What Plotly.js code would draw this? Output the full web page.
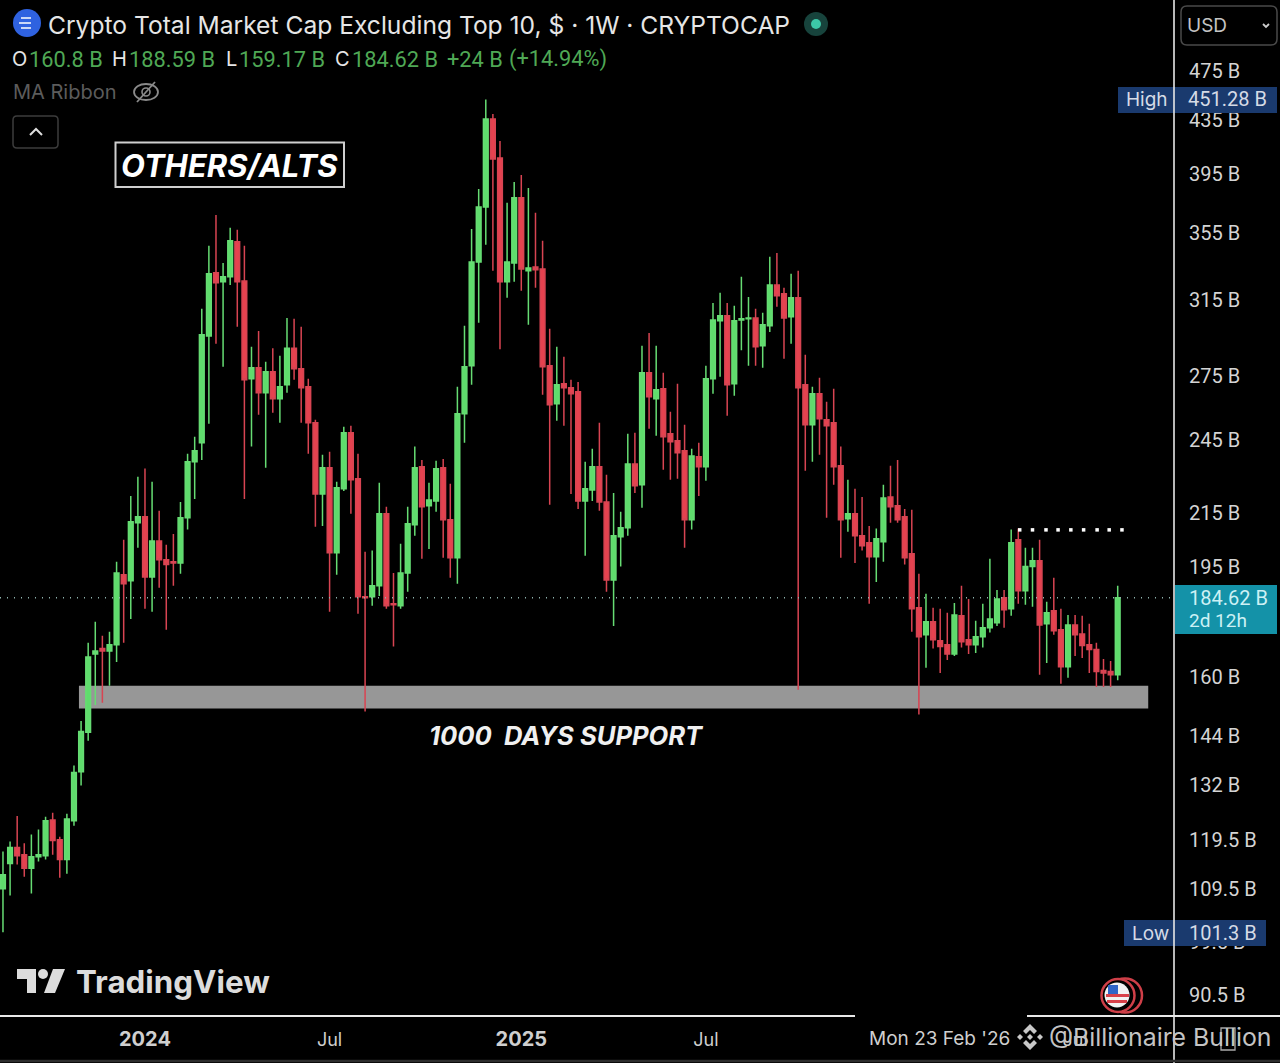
<!DOCTYPE html>
<html><head><meta charset="utf-8">
<script src="https://cdn.plot.ly/plotly-3.0.1.min.js"></script>
<style>html,body{margin:0;padding:0;background:#000;overflow:hidden}#c{width:1280px;height:1063px}</style>
</head><body><div id="c"></div>
<script>
const open_=[109.5,114.6,117.9,116.4,113.6,116.0,116.2,123.9,119.6,115.4,123.7,135.1,145.0,166.9,168.5,167.8,169.7,192.4,190.3,211.2,213.5,191.6,204.4,197.6,196.9,196.5,213.1,235.6,243.8,295.3,330.7,325.4,328.3,349.6,325.9,273.4,278.9,266.7,276.9,263.8,270.5,288.8,278.4,269.5,252.7,222.4,233.1,200.1,224.5,248.2,228.5,184.9,184.9,188.6,214.6,182.6,182.0,193.0,210.4,233.5,217.7,219.6,233.1,212.3,198.3,256.8,279.9,337.2,372.2,435.8,406.4,325.4,336.6,378.3,331.9,334.2,333.0,279.9,261.4,271.0,269.1,267.1,219.6,224.0,233.5,219.2,190.6,205.9,209.3,234.7,226.1,276.4,263.8,268.6,247.8,244.7,240.3,212.3,237.7,233.5,273.4,303.4,306.2,271.0,303.9,304.5,305.0,290.1,300.7,323.6,318.5,305.6,316.2,270.5,251.8,266.2,254.0,252.7,233.9,212.7,214.6,206.3,203.7,198.7,204.1,221.2,217.7,213.5,199.8,181.3,172.7,176.8,170.9,169.7,166.9,178.7,171.2,169.7,172.1,174.9,176.5,184.6,181.0,204.8,186.9,195.2,197.3,176.2,180.3,174.3,163.1,175.8,173.0,169.7,168.2,162.0,161.7,160.8];
const high_=[117.1,119.2,124.8,118.8,120.7,121.8,124.6,125.5,120.2,125.3,136.6,148.0,170.3,176.8,172.4,173.7,196.9,204.8,221.6,229.3,232.8,227.3,215.8,203.0,207.0,219.2,239.0,246.4,310.0,347.1,366.9,336.6,358.5,357.2,347.1,289.6,297.9,281.9,288.8,285.0,305.0,304.5,300.2,273.4,254.0,238.6,239.9,227.3,250.9,251.3,239.0,200.5,200.9,226.9,217.3,193.0,203.4,217.3,242.1,236.4,226.9,236.0,236.8,226.5,269.5,300.7,357.8,384.4,451.28,439.8,418.9,374.9,389.2,394.2,385.1,368.3,350.2,299.1,289.6,284.4,272.9,271.9,235.6,241.2,252.7,230.2,222.8,215.4,247.8,248.2,290.1,296.9,290.1,276.4,257.7,271.0,251.8,241.2,243.8,279.9,313.3,319.0,313.3,311.7,328.3,316.7,310.0,307.8,340.3,342.7,321.9,330.1,331.9,285.5,269.5,273.9,262.4,268.6,242.1,228.1,224.5,221.2,210.0,209.0,226.1,233.9,236.4,216.5,216.2,192.7,185.9,181.3,181.0,179.7,182.9,188.6,184.2,177.1,182.6,198.0,187.2,187.2,208.6,209.0,201.9,201.9,204.8,183.3,191.3,181.0,179.0,179.0,178.7,176.2,170.3,165.4,164.8,188.59];
const low_=[101.3,108.2,114.4,111.9,108.6,115.0,115.4,116.4,111.7,112.5,122.6,131.8,142.8,152.3,152.9,157.6,164.5,170.3,177.7,201.9,181.0,180.0,187.9,174.3,188.6,192.7,208.6,220.4,236.4,252.2,291.1,279.4,323.6,300.2,220.4,242.1,256.3,233.1,257.3,252.7,266.7,272.9,252.7,239.0,209.7,210.0,180.0,192.4,223.6,214.6,179.4,150.5,182.0,185.2,181.0,169.1,181.0,186.6,206.3,198.0,201.5,215.4,198.3,191.3,189.3,243.8,270.5,302.3,347.7,331.9,288.3,316.2,325.4,320.2,301.2,321.9,265.7,218.1,253.6,251.3,222.4,216.5,199.0,219.6,215.8,186.6,175.5,195.2,206.3,222.8,216.9,250.0,246.9,232.3,228.1,228.5,201.9,208.6,221.6,227.7,266.2,274.4,255.9,265.2,287.8,279.9,279.9,278.9,297.4,311.1,283.4,291.1,156.5,231.8,235.6,238.6,213.1,226.1,198.3,207.8,196.5,200.9,182.6,189.9,196.9,211.2,211.2,195.9,173.7,149.7,162.8,168.5,161.3,165.1,166.3,168.8,166.9,167.2,168.8,173.4,175.5,174.9,178.7,182.6,182.3,181.6,160.8,164.2,172.7,158.2,159.9,166.3,165.7,161.3,157.3,157.3,157.3,159.17];
const close_=[112.3,117.9,116.2,113.6,116.0,116.4,123.7,119.4,115.4,124.1,134.9,145.2,166.0,167.8,167.8,169.7,193.0,189.3,211.6,213.5,191.6,204.4,197.6,195.9,196.5,213.1,235.6,240.3,295.9,330.1,324.8,328.3,350.2,325.4,272.9,278.9,266.7,276.9,263.8,269.5,288.8,278.4,269.1,252.7,222.4,233.1,200.1,224.9,248.2,228.1,184.9,184.6,188.6,214.6,182.0,182.3,193.0,210.8,233.1,217.3,220.0,232.7,212.3,198.3,256.8,279.4,337.2,372.2,435.8,405.6,325.4,337.2,378.3,333.0,333.6,332.5,279.4,261.0,270.5,269.1,266.2,219.6,224.5,233.5,219.2,190.6,206.3,209.3,234.7,225.7,276.4,264.7,268.1,246.4,244.2,239.4,212.3,238.1,233.5,273.4,303.9,306.2,270.5,303.4,304.5,305.0,289.6,301.2,323.6,317.3,305.0,316.2,269.1,251.8,266.2,254.5,251.3,233.5,212.3,214.6,206.3,202.6,198.7,205.2,220.8,217.3,212.3,198.3,181.0,172.1,176.8,171.2,169.1,166.9,179.0,170.6,169.7,172.1,174.9,177.7,184.2,180.7,203.7,186.9,195.2,197.3,175.8,179.7,174.0,163.1,175.8,172.7,169.4,168.2,161.7,161.3,160.8,184.62];
const weekIndex=open_.map((_,i)=>i);
const priceTicks=[475,435,395,355,315,275,245,215,195,160,144,132,119.5,109.5,99.5,90.5];
const priceTickText=['475 B','435 B','395 B','355 B','315 B','275 B','245 B','215 B','195 B','160 B','144 B','132 B','119.5 B','109.5 B','99.5 B','90.5 B'];
const timeTicks=[20,46,73,99,151];
const timeTickText=['<b style="font-size:20px">2024</b>','Jul','<b style="font-size:20px">2025</b>','Jul','Jul'];
const lastPrice=[184.62,184.62];
const lastPriceX=[-0.42,164.93];
const resistanceX=[143.2,145,146.9,148.6,150.4,152.2,154.1,155.8,157.6];
const resistanceY=[208.5,208.5,208.5,208.5,208.5,208.5,208.5,208.5,208.5];
const supportLow=151.3, supportHigh=157.6, supportStart=10.7, supportEnd=161.3;

const W=1174,H=1016;
const px=x=>x/W, py=y=>1-y/H;
const UI='Inter, "Noto Sans", sans-serif';
const NUM='Roboto, Inter, sans-serif';
function txt(x,y,text,size,color,opts={}){
  return Object.assign({xref:'paper',yref:'paper',x:px(x),y:py(y),text,showarrow:false,xanchor:'left',yanchor:'middle',
    font:{family:opts.family||UI,size,color},borderpad:0,borderwidth:0},opts.extra||{});
}
function rect(x0,y0,x1,y1,fill,line,lw){return {type:'rect',xref:'paper',yref:'paper',layer:'above',x0:px(x0),x1:px(x1),y0:py(y0),y1:py(y1),fillcolor:fill||'rgba(0,0,0,0)',line:{color:line||'rgba(0,0,0,0)',width:lw||0}};}
function circ(cx,cy,r,fill,line,lw){return {type:'circle',xref:'paper',yref:'paper',layer:'above',x0:px(cx-r),x1:px(cx+r),y0:py(cy-r),y1:py(cy+r),fillcolor:fill||'rgba(0,0,0,0)',line:{color:line||'rgba(0,0,0,0)',width:lw||0}};}
function seg(x0,y0,x1,y1,color,lw){return {type:'line',xref:'paper',yref:'paper',layer:'above',x0:px(x0),x1:px(x1),y0:py(y0),y1:py(y1),line:{color,width:lw}};}
function poly(pts,fill,line,lw,closed=true){
  const d=pts.map((p,i)=>(i?'L':'M')+px(p[0])+' '+py(p[1])).join(' ')+(closed?' Z':'');
  return {type:'path',xref:'paper',yref:'paper',layer:'above',path:d,fillcolor:fill||'rgba(0,0,0,0)',line:{color:line||'rgba(0,0,0,0)',width:lw||0}};
}
const shapes=[
 {type:'rect',xref:'x',yref:'y',layer:'below',x0:supportStart,x1:supportEnd,y0:supportLow,y1:supportHigh,fillcolor:'#979797',line:{width:0}},
 // logo
 circ(27,23,14,'#2f62e0'),
 seg(21,18,31,18,'#fff',1.5),seg(19,23,31,23,'#fff',1.5),seg(21,28,31,28,'#fff',1.5),
 // market dot
 circ(816,24,12,'#17433c'),circ(816,24,5,'#3cc8a8'),
 // eye
 {type:'circle',xref:'paper',yref:'paper',layer:'above',x0:px(134),x1:px(158),y0:py(84),y1:py(100),line:{color:'#8a8a8a',width:1.8}},
 circ(146,92,4,null,'#8a8a8a',1.6),
 seg(137,102,155,82,'#8a8a8a',1.8),
 // collapse
 {type:'path',xref:'paper',yref:'paper',layer:'above',path:`M${px(17)} ${py(116)} L${px(54)} ${py(116)} Q${px(58)} ${py(116)} ${px(58)} ${py(120)} L${px(58)} ${py(144)} Q${px(58)} ${py(148)} ${px(54)} ${py(148)} L${px(17)} ${py(148)} Q${px(13)} ${py(148)} ${px(13)} ${py(144)} L${px(13)} ${py(120)} Q${px(13)} ${py(116)} ${px(17)} ${py(116)} Z`,line:{color:'#3c3c3c',width:1.5}},
 poly([[30,135],[36,129],[42,135]],null,'#ddd',2,false),
 // others box
 rect(115.5,142.5,344,187,null,'#cfcfcf',2),
 // USD
 {type:'path',xref:'paper',yref:'paper',layer:'above',path:`M${px(1187)} ${py(6)} L${px(1271)} ${py(6)} Q${px(1277)} ${py(6)} ${px(1277)} ${py(12)} L${px(1277)} ${py(39)} Q${px(1277)} ${py(45)} ${px(1271)} ${py(45)} L${px(1187)} ${py(45)} Q${px(1181)} ${py(45)} ${px(1181)} ${py(39)} L${px(1181)} ${py(12)} Q${px(1181)} ${py(6)} ${px(1187)} ${py(6)} Z`,line:{color:'#4a4a4a',width:1.5}},
 poly([[1263,24],[1266,27],[1269,24]],null,'#ccc',1.8,false),
 // high / low / price labels
 rect(1118,87,1277,113,'#1a3a6e'),
 rect(1124,920,1266,946,'#1a3a6e'),
 rect(1175,585,1277,634,'#1492a8'),
 // axis lines
 rect(855,1017,1027,1060,'#000'),
 seg(0,1016,855,1016,'#e8e8e8',2),seg(1027,1016,1280,1016,'#e8e8e8',2),
 seg(1174,0,1174,1063,'#e8e8e8',1.6),
 seg(0,1061,1280,1061,'#2e2e2e',2.5),
 // tradingview
 poly([[17,969],[36,969],[36,993],[27,993],[27,979],[17,979]],'#dcdcdc'),
 circ(43,974,5,'#dcdcdc'),
 poly([[53,969],[65,969],[55,993],[44,993]],'#dcdcdc'),
 // flag
 circ(1125,995.5,17,'#000','#cf3f48',2.5),circ(1118,995.5,16.5,'#000','#cf3f48',2.5),circ(1117,995,12.5,'#f2f2f2'),
 rect(1106,994,1129,997,'#d8414a'),rect(1107,1000,1127,1003,'#d8414a'),
 rect(1108,985,1118,994,'#2f65c8'),
 // binance
 poly([[1030,1024],[1037,1031],[1034,1034],[1030,1030],[1026,1034],[1023,1031]],'#c8c8c8'),
 poly([[1030,1050],[1037,1043],[1034,1040],[1030,1044],[1026,1040],[1023,1043]],'#c8c8c8'),
 poly([[1030,1034],[1033,1037],[1030,1040],[1027,1037]],'#c8c8c8'),
 poly([[1020,1034],[1023,1037],[1020,1040],[1017,1037]],'#c8c8c8'),
 poly([[1040,1034],[1043,1037],[1040,1040],[1037,1037]],'#c8c8c8'),
 rect(1221,1028,1235,1050,null,'#aaa',1.3),
];
const G='#4fa855';
const N={family:NUM};
const annotations=[
 txt(48,25,'Crypto Total Market Cap Excluding Top 10, $ · 1W · CRYPTOCAP',24.6,'#e6e6e6'),
 txt(12,59,'O',20,'#e6e6e6'),txt(29,59,'160.8 B',21.8,G,N),
 txt(112,59,'H',20,'#e6e6e6'),txt(129,59,'188.59 B',21.8,G,N),
 txt(226,59,'L',20,'#e6e6e6'),txt(239,59,'159.17 B',21.8,G,N),
 txt(335,59,'C',20,'#e6e6e6'),txt(352,59,'184.62 B',21.8,G,N),
 txt(447,59,'+24 B',21.8,G,N),txt(509,59,'(+14.94%)',21.8,G,N),
 txt(13,92,'MA Ribbon',20,'#5c5c5c'),
 txt(229.5,166,'<b><i>OTHERS/ALTS</i></b>',31,'#fff',{extra:{xanchor:'center'}}),
 txt(566,735,'<b><i>1000  DAYS SUPPORT</i></b>',25.6,'#f0f0f0',{extra:{xanchor:'center'}}),
 txt(1187,26,'USD',19,'#c4c4c4'),
 txt(1126,99,'High',19,'#d5dbe6'),txt(1188,99,'451.28 B',20,'#d5dbe6',N),
 txt(1132,933,'Low',19,'#d5dbe6'),txt(1189,933,'101.3 B',20,'#d5dbe6',N),
 txt(1189,598,'184.62 B',20,'#cdf1f5',N),txt(1189,620,'2d 12h',19,'#cdf1f5',N),
 txt(76,982,'<b>TradingView</b>',31.3,'#dcdcdc'),
 txt(869,1038,"Mon 23 Feb '26",19,'#cfcfcf'),
 txt(1049,1037,'@Billionaire Bullion',24.8,'#c4c4c4'),
];
const traces=[
 {type:'scatter',mode:'lines',x:lastPriceX,y:lastPrice,line:{color:'#8fb3ad',width:1.5,dash:'1px,6px'},hoverinfo:'skip',showlegend:false},
 {type:'candlestick',x:weekIndex,open:open_,high:high_,low:low_,close:close_,
  increasing:{line:{color:'#66dc73',width:1.5},fillcolor:'#5fdc6c'},
  decreasing:{line:{color:'#d84452',width:1.5},fillcolor:'#e5424f'},showlegend:false},
 {type:'scatter',mode:'markers',x:resistanceX,y:resistanceY,marker:{symbol:'square',size:3.5,color:'#fff'},hoverinfo:'skip',showlegend:false},
];
const layout={
 width:1280,height:1063,paper_bgcolor:'#000',plot_bgcolor:'#000',
 margin:{l:0,r:106,t:0,b:47,pad:0},showlegend:false,boxgap:0.05,hovermode:false,
 xaxis:{type:'linear',range:[-0.42,164.93],tickmode:'array',tickvals:timeTicks,ticktext:timeTickText,showgrid:false,zeroline:false,showline:false,ticks:'',
   tickfont:{family:UI,size:18,color:'#cfcfcf'},tickangle:0,rangeslider:{visible:false},fixedrange:true,ticklabelstandoff:11},
 yaxis:{type:'log',side:'right',range:[1.9403,2.7320],tickmode:'array',tickvals:priceTicks,ticktext:priceTickText,showgrid:false,zeroline:false,showline:false,ticks:'',
   tickfont:{family:NUM,size:20,color:'#d4d4d4'},fixedrange:true,ticklabelstandoff:14},
 shapes,annotations
};
Plotly.newPlot('c',traces,layout,{displayModeBar:false,staticPlot:true});
</script></body></html>
